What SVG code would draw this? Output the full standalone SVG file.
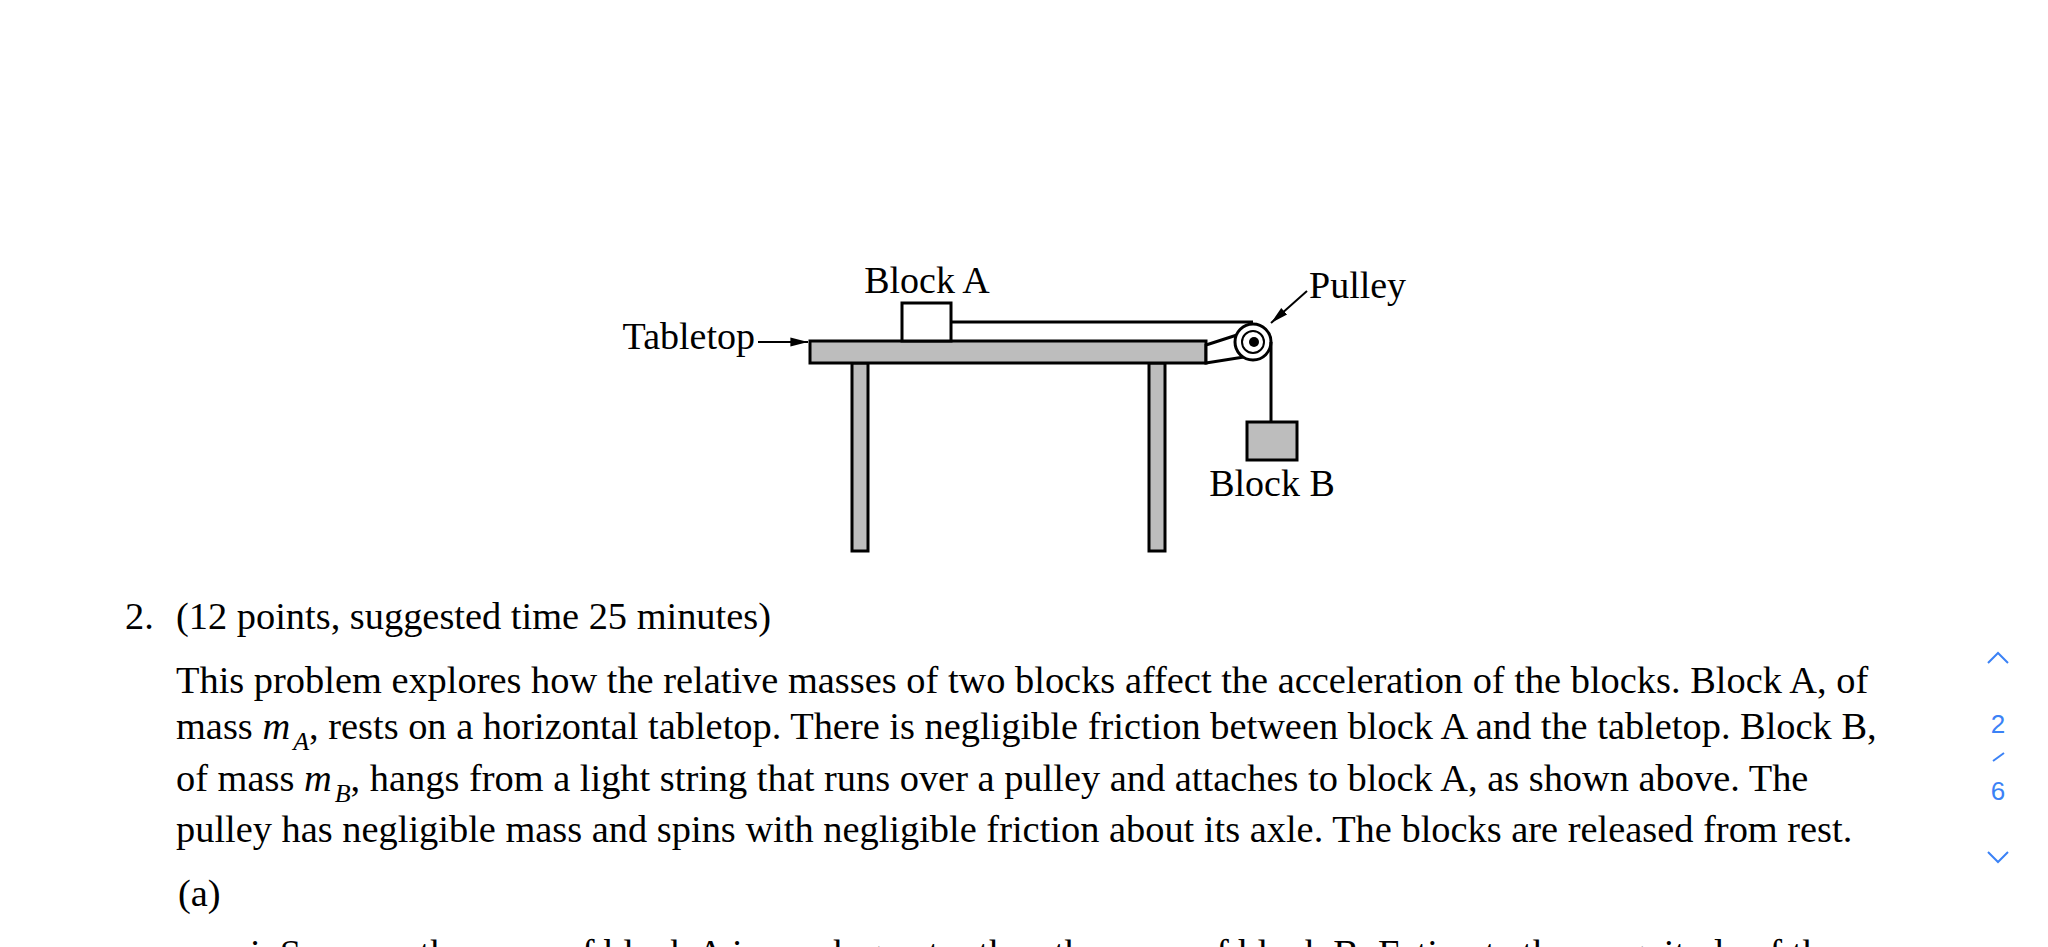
<svg xmlns="http://www.w3.org/2000/svg" width="2048" height="947" viewBox="0 0 2048 947">
<style>
.t{font-family:"Liberation Serif","Times New Roman",serif;fill:#000}
.lbl{font-size:38px}
.body{font-size:38.4px}
.ln{stroke:#000;stroke-width:3;fill:none}
.gray{fill:#bdbdbd;stroke:#000;stroke-width:3}
.nav{font-family:"Liberation Sans",Arial,sans-serif;font-size:26px;fill:#3b82f6}
</style>
<defs>
<marker id="ah" viewBox="0 0 16 10" refX="16" refY="5" markerWidth="18" markerHeight="11" markerUnits="userSpaceOnUse" orient="auto"><path d="M0,1 L16,5 L0,9 z" fill="#000"/></marker>
</defs>
<rect width="2048" height="947" fill="#fff"/>
<g id="table">
<rect class="gray" x="852" y="363" width="16" height="188"/>
<rect class="gray" x="1149" y="363" width="16" height="188"/>
<rect class="gray" x="810" y="341" width="396" height="22"/>
</g>
<g id="blockA"><rect x="902" y="303" width="49" height="38" fill="#fff" stroke="#000" stroke-width="3"/></g>
<g id="pulley">
<path d="M1206,345 L1240,334 L1244,357 L1206,363 Z" fill="#fff" stroke="#000" stroke-width="3"/>
<circle cx="1253" cy="342" r="18" fill="#fff" stroke="#000" stroke-width="3"/>
<circle cx="1253" cy="342" r="11" fill="#fff" stroke="#000" stroke-width="2"/>
<circle cx="1254" cy="342" r="5" fill="#000"/>
</g>
<g id="blockB"><rect class="gray" x="1247" y="422" width="50" height="38"/></g>
<g id="connectors">
<line class="ln" x1="951" y1="322" x2="1253" y2="322"/>
<line class="ln" x1="1271" y1="342" x2="1271" y2="422"/>
<line x1="758" y1="342" x2="808" y2="342" stroke="#000" stroke-width="2" marker-end="url(#ah)"/>
<line x1="1307" y1="291" x2="1271" y2="323" stroke="#000" stroke-width="2" marker-end="url(#ah)"/>
</g>
<text class="t lbl" x="927" y="293" text-anchor="middle">Block A</text>
<text class="t lbl" x="755" y="349" text-anchor="end">Tabletop</text>
<text class="t lbl" x="1309" y="298">Pulley</text>
<text class="t lbl" x="1272" y="496" text-anchor="middle">Block B</text>
<g class="t body">
<text x="125" y="629">2.</text>
<text x="176" y="629">(12 points, suggested time 25 minutes)</text>
<text x="176" y="693">This problem explores how the relative masses of two blocks affect the acceleration of the blocks. Block A, of</text>
<text x="176" y="739">mass <tspan font-style="italic">m</tspan><tspan font-style="italic" font-size="26" dx="3" dy="11">A</tspan><tspan dy="-11">, rests on a horizontal tabletop. There is negligible friction between block A and the tabletop. Block B,</tspan></text>
<text x="176" y="791">of mass <tspan font-style="italic">m</tspan><tspan font-style="italic" font-size="26" dx="3" dy="11">B</tspan><tspan dy="-11">, hangs from a light string that runs over a pulley and attaches to block A, as shown above. The</tspan></text>
<text x="176" y="842">pulley has negligible mass and spins with negligible friction about its axle. The blocks are released from rest.</text>
<text x="178" y="906">(a)</text>
<text x="250" y="966">i. Suppose the mass of block A is much greater than the mass of block B. Estimate the magnitude of the</text>
</g>
<g id="nav">
<path d="M1988,663 L1998,653 L2008,663" fill="none" stroke="#3b82f6" stroke-width="2"/>
<text class="nav" x="1998" y="733" text-anchor="middle">2</text>
<line x1="1993" y1="761" x2="2004" y2="753" stroke="#3b82f6" stroke-width="2"/>
<text class="nav" x="1998" y="800" text-anchor="middle">6</text>
<path d="M1988,852 L1998,862 L2008,852" fill="none" stroke="#3b82f6" stroke-width="2"/>
</g>
</svg>
